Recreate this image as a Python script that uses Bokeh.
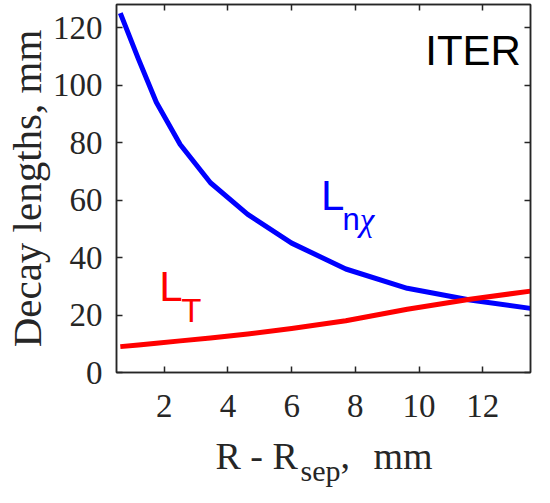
from bokeh.plotting import figure
from bokeh.models import Range1d, LinearAxis, SingleIntervalTicker, Label, ColumnDataSource
from bokeh.layouts import column
from bokeh.core.properties import value
from bokeh.embed import file_html
from bokeh.resources import INLINE

# Data
r_sep = [0.62, 1.19, 1.75, 2.5, 3.45, 4.62, 6.0, 7.7, 9.63, 11.6, 13.5]
L_nchi = [125.0, 109.0, 94.0, 79.3, 66.0, 55.0, 45.0, 36.0, 29.3, 25.2, 22.3]
L_T = [9.0, 9.6, 10.2, 11.0, 12.0, 13.4, 15.3, 18.0, 22.0, 25.5, 28.3]
x_ticks_interval = 2
y_ticks_interval = 20
y_label = "Decay lengths, mm"
x_label_main = ["R - R", ",", "mm"]
x_label_sub = ["sep"]

AX = "#262626"
SERIF = "Liberation Serif"
SANS = "Liberation Sans"

src = ColumnDataSource(data=dict(x=r_sep, ln=L_nchi, lt=L_T))
xr = Range1d(0.5, 13.5)

p = figure(width=534, height=430, x_range=xr, y_range=Range1d(0, 128), title=None,
           output_backend="svg", toolbar_location=None,
           min_border_left=40, min_border_right=0, min_border_top=2, min_border_bottom=58)
p.xgrid.visible = False
p.ygrid.visible = False
p.background_fill_color = "white"
p.border_fill_color = "white"
p.outline_line_color = AX
p.outline_line_width = 1.5

p.line("x", "ln", source=src, line_color="#0000FF", line_width=5, line_join="round")
p.line("x", "lt", source=src, line_color="#FF0000", line_width=5, line_join="round")

def style_axis(ax, show_labels=True):
    ax.axis_line_color = AX
    ax.axis_line_width = 1.5
    ax.major_tick_line_color = AX
    ax.major_tick_line_width = 1.5
    ax.major_tick_in = 6
    ax.major_tick_out = 0
    ax.minor_tick_line_color = None
    if show_labels:
        ax.major_label_text_font = SERIF
        ax.major_label_text_font_size = "33px"
        ax.major_label_text_color = AX
    else:
        ax.major_label_text_font_size = "0px"
        ax.major_label_text_alpha = 0
        ax.major_label_standoff = 0
        ax.axis_label_standoff = 0

p.xaxis.ticker = SingleIntervalTicker(interval=x_ticks_interval)
p.yaxis.ticker = SingleIntervalTicker(interval=y_ticks_interval)
style_axis(p.xaxis[0])
style_axis(p.yaxis[0])
p.xaxis.major_label_standoff = 18
p.yaxis.major_label_standoff = 10

p.yaxis.axis_label = y_label
p.yaxis.axis_label_text_font = SERIF
p.yaxis.axis_label_text_font_size = "41px"
p.yaxis.axis_label_text_font_style = "normal"
p.yaxis.axis_label_text_color = AX
p.yaxis.axis_label_standoff = 0

top = LinearAxis(ticker=SingleIntervalTicker(interval=x_ticks_interval))
right = LinearAxis(ticker=SingleIntervalTicker(interval=y_ticks_interval))
style_axis(top, False)
style_axis(right, False)
p.add_layout(top, "above")
p.add_layout(right, "right")

# In-plot annotations
p.add_layout(Label(x=13.2, y=111.9, text="ITER", text_align="right", text_baseline="alphabetic",
                   text_font=SANS, text_font_size="42px", text_color="black"))
p.add_layout(Label(x=6.92, y=61.5, text="L", text_align="left", text_baseline="alphabetic",
                   text_font=SANS, text_font_size="42px", text_color="#0000FF"))
p.add_layout(Label(x=7.60, y=53.2, text="n", text_align="left", text_baseline="alphabetic",
                   text_font=SANS, text_font_size="31px", text_color="#0000FF"))
p.add_layout(Label(x=8.14, y=53.2, text="χ", text_align="left", text_baseline="alphabetic",
                   text_font=SERIF, text_font_style="italic", text_font_size="33px", text_color="#0000FF"))
p.add_layout(Label(x=1.84, y=29.9, text="L", text_align="left", text_baseline="alphabetic",
                   text_font=SANS, text_font_size="42px", text_color="#FF0000"))
p.add_layout(Label(x=2.53, y=21.7, text="T", text_align="left", text_baseline="alphabetic",
                   text_font=SANS, text_font_size="33px", text_color="#FF0000"))

# x-axis label strip: shares the x range, so its frame lines up with the plot frame
q = figure(width=534, height=57, x_range=xr, y_range=Range1d(0, 57), title=None,
           output_backend="svg", toolbar_location=None, x_axis_type=None, y_axis_type=None,
           min_border=0)
q.xgrid.visible = False
q.ygrid.visible = False
q.outline_line_color = None
q.border_fill_color = "white"
mid = (xr.start + xr.end) / 2
main_src = ColumnDataSource(data=dict(x=[mid] * 3, y=[32] * 3, t=x_label_main, dx=[-108, 17, 50]))
sub_src = ColumnDataSource(data=dict(x=[mid], y=[17], t=x_label_sub, dx=[-23]))
q.text("x", "y", text="t", x_offset="dx", source=main_src, text_font=value(SERIF),
       text_font_size="38px", text_color=AX, text_align="left", text_baseline="alphabetic")
q.text("x", "y", text="t", x_offset="dx", source=sub_src, text_font=value(SERIF),
       text_font_size="30px", text_color=AX, text_align="left", text_baseline="alphabetic")

open("out.html", "w").write(file_html(column(p, q), INLINE))
